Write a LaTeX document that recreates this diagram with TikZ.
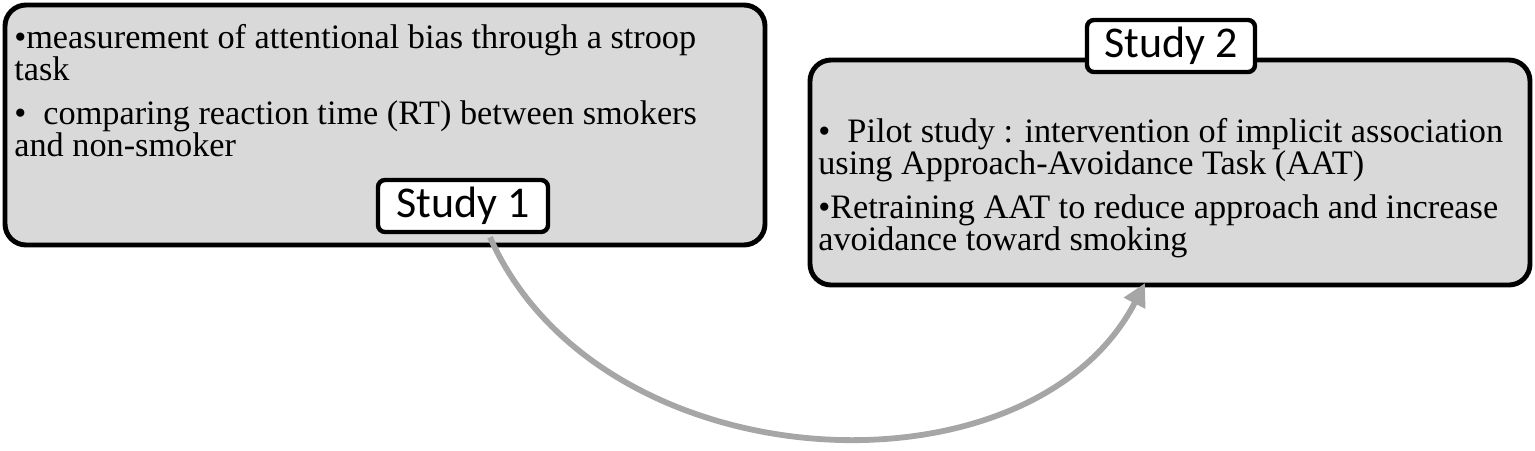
\documentclass[tikz,border=0pt]{standalone}
\usepackage{fontspec}
\setmainfont{Liberation Serif}
\newfontfamily\labfont{Carlito}
\usetikzlibrary{arrows.meta}
\definecolor{boxgray}{HTML}{D9D9D9}
\definecolor{arcgray}{HTML}{A6A6A6}
\begin{document}
\begin{tikzpicture}[x=0.02cm,y=-0.02cm,
  bigbox/.style={draw=black,line width=2.8pt,fill=boxgray,rounded corners=12pt},
  labbox/.style={draw=black,line width=2.5pt,fill=white,rounded corners=4pt,font=\labfont\fontsize{25}{28}\selectfont,inner sep=0pt},
  txt/.style={anchor=north west,align=left,font=\fontsize{19.5}{18.5}\selectfont,inner sep=0pt}]
\useasboundingbox (0,0) rectangle (1535,450);
\path[bigbox] (5,5) rectangle (765,245);
\path[bigbox] (810,60) rectangle (1530,285);
\node[txt] (t1) at (14,24) {\textbullet measurement of attentional bias through a stroop\\task\\[6pt]\textbullet\ \ comparing reaction time (RT) between smokers\\and non-smoker};
\node[txt] (t2) at (818,118) {\textbullet\ \ Pilot study : intervention of implicit association\\using Approach-Avoidance Task (AAT)\\[6pt]\textbullet Retraining AAT to reduce approach and increase\\avoidance toward smoking};
\node[labbox,minimum width=170*0.02cm,minimum height=52*0.02cm] (s1) at (463,206) {Study 1};
\node[labbox,minimum width=168*0.02cm,minimum height=52*0.02cm] (s2) at (1171,46) {Study 2};
\coordinate (e) at (1145,283);
\draw[arcgray,line width=3.3pt,-{Triangle[length=13pt,width=13pt]}] (s1.south)++(27,3) .. controls (600,485) and (1030,505) .. (e);
\end{tikzpicture}
\end{document}
